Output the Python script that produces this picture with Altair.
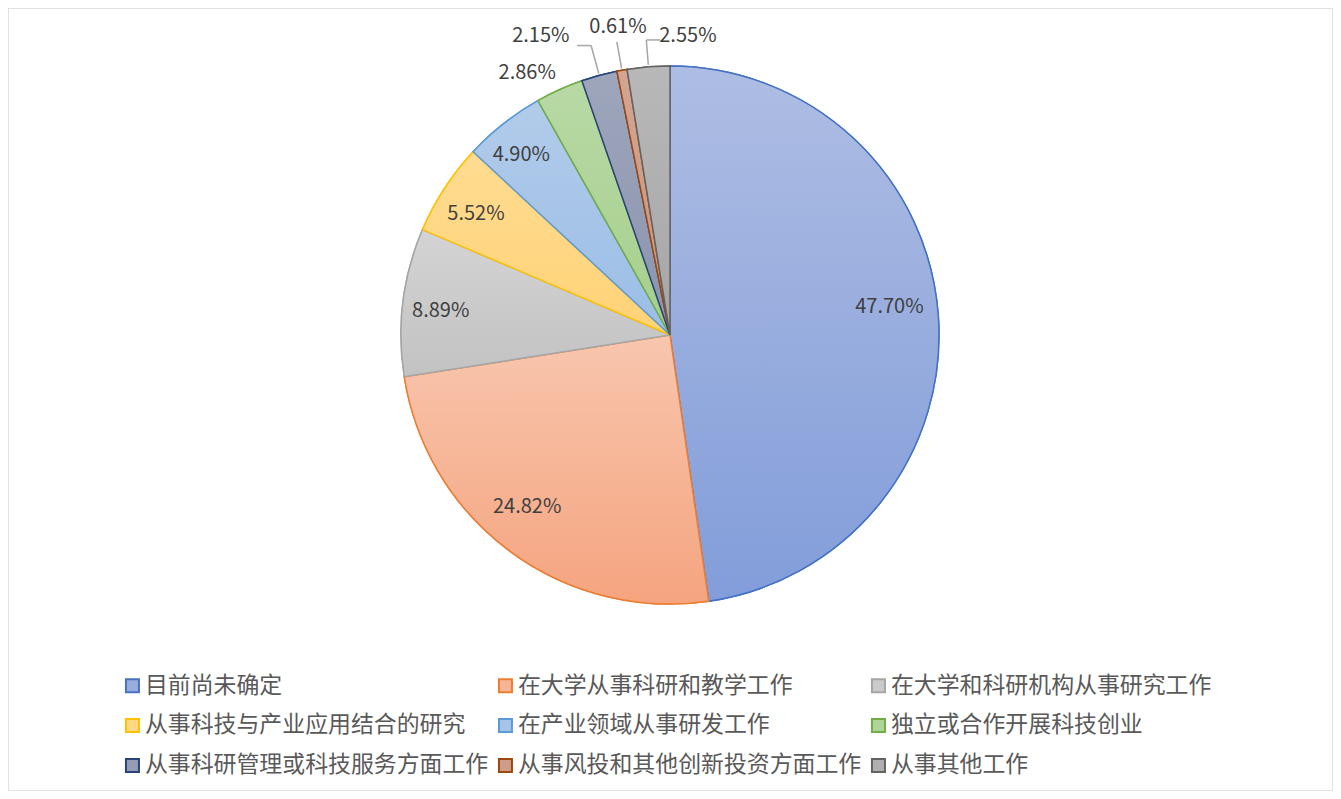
import altair as alt
import pandas as pd

names = ["目前尚未确定", "在大学从事科研和教学工作", "在大学和科研机构从事研究工作",
         "从事科技与产业应用结合的研究", "在产业领域从事研发工作", "独立或合作开展科技创业",
         "从事科研管理或科技服务方面工作", "从事风投和其他创新投资方面工作", "从事其他工作"]
values = [47.70, 24.82, 8.89, 5.52, 4.90, 2.86, 2.15, 0.61, 2.55]

line_colors = ["#4472C4", "#ED7D31", "#A5A5A5", "#FFC000", "#5B9BD5",
               "#70AD47", "#264478", "#9E480E", "#636363"]
fill_top = ["#AEBDE3", "#F8C6AE", "#D4D4D4", "#FFDC92", "#B2CBEA",
            "#B8D9A5", "#9EA6BC", "#D3A592", "#B8B8B8"]
fill_bottom = ["#829DDA", "#F5A47F", "#C2C2C2", "#FFD276", "#9BBEE6",
               "#A6CF8C", "#8B94AE", "#C99580", "#A6A6A6"]
legend_fill = ["#98ACDE", "#F7B496", "#CBCBCB", "#FFD884", "#A6C4E8",
               "#AFD499", "#949DB5", "#CE9D89", "#AFAFAF"]

df = pd.DataFrame({"name": names, "value": values, "idx": list(range(len(names)))})

W, H = 1325, 783
CX, CY, R = 662, 327, 269
FONT = "Noto Sans CJK SC"

base = alt.Chart(df).transform_window(
    end="sum(value)", sort=[alt.SortField("idx")], frame=[None, 0]
).transform_calculate(
    start="datum.end - datum.value",
    mid="datum.end - datum.value / 2",
    ang="2 * PI * (datum.end - datum.value / 2) / 100",
    label="format(datum.value, '.2f') + '%'",
)
theta_scale = alt.Scale(domain=[0, 100])

legend = alt.Legend(
    title=None, orient="none", legendX=113, legendY=666, columns=3, direction="horizontal",
    symbolType="square", symbolSize=169, symbolStrokeWidth=2,
    labelFont=FONT, labelFontSize=22.9, labelColor="#595959", labelLimit=600,
    labelOffset=1, rowPadding=16, columnPadding=5,
)

pie_base = base.mark_arc(radius=R, x=CX, y=CY, strokeWidth=1.5).encode(
    theta=alt.Theta("start:Q", scale=theta_scale),
    theta2="end:Q",
    fill=alt.Fill("name:N", scale=alt.Scale(domain=names, range=legend_fill), legend=legend),
    stroke=alt.Stroke("name:N", scale=alt.Scale(domain=names, range=line_colors), legend=legend),
)

layers = [pie_base]
for n, top, bot, lc in zip(names, fill_top, fill_bottom, line_colors):
    grad = alt.Gradient(
        gradient="linear",
        stops=[alt.GradientStop(offset=0, color=top), alt.GradientStop(offset=1, color=bot)],
        x1=0, x2=0, y1=0, y2=1,
    )
    layers.append(
        base.transform_filter(alt.datum.name == n)
        .mark_arc(radius=R, x=CX, y=CY, fill=grad, stroke=lc, strokeWidth=1.5)
        .encode(theta=alt.Theta("start:Q", scale=theta_scale), theta2="end:Q")
    )

text_style = dict(x=CX, y=CY, fontSize=20, font=FONT, color="#404040")


def label(name, r, dx, dy):
    return base.transform_filter(alt.datum.name == name).mark_text(
        radius=r, dx=dx, dy=dy, **text_style
    ).encode(theta=alt.Theta("mid:Q", scale=theta_scale), text="label:N")


layers += [
    label(names[0], 229, -9, -11),
    label(names[1], 229, -7, -12),
    label(names[2], 229, -2, 4),
    label(names[3], 229, -2, 4),
    label(names[4], 229, -7, 0),
    label(names[5], 289, -24, 1),
    label(names[6], 305, -49, -5),
    label(names[7], 314, 4, 1),
    label(names[8], 301, 42, 1),
]


def leader(name, r1, r2, hdx):
    b = base.transform_filter(alt.datum.name == name).transform_calculate(
        xa=f"{CX} + {r1} * sin(datum.ang)", ya=f"{CY} - {r1} * cos(datum.ang)",
        xb=f"{CX} + {r2} * sin(datum.ang)", yb=f"{CY} - {r2} * cos(datum.ang)",
        xc=f"{CX} + {r2} * sin(datum.ang) + {hdx}",
    )
    seg1 = b.mark_rule(color="#A6A6A6", strokeWidth=1.5).encode(
        x=alt.X("xa:Q", scale=None), y=alt.Y("ya:Q", scale=None),
        x2="xb:Q", y2="yb:Q",
    )
    out = [seg1]
    if hdx != 0:
        seg2 = b.mark_rule(color="#A6A6A6", strokeWidth=1.5).encode(
            x=alt.X("xb:Q", scale=None), y=alt.Y("yb:Q", scale=None),
            x2="xc:Q", y2="yb:Q",
        )
        out.append(seg2)
    return out


layers += leader(names[6], 271, 300, -14)
layers += leader(names[7], 271, 298, 0)
layers += leader(names[8], 271, 296, 14)

chart = alt.layer(*layers).properties(
    width=W, height=H, padding=0, background="white"
).configure_view(stroke="#D9D9D9", strokeWidth=1.5)

chart.save("out.html", embed_options={"renderer": "svg", "actions": False})
